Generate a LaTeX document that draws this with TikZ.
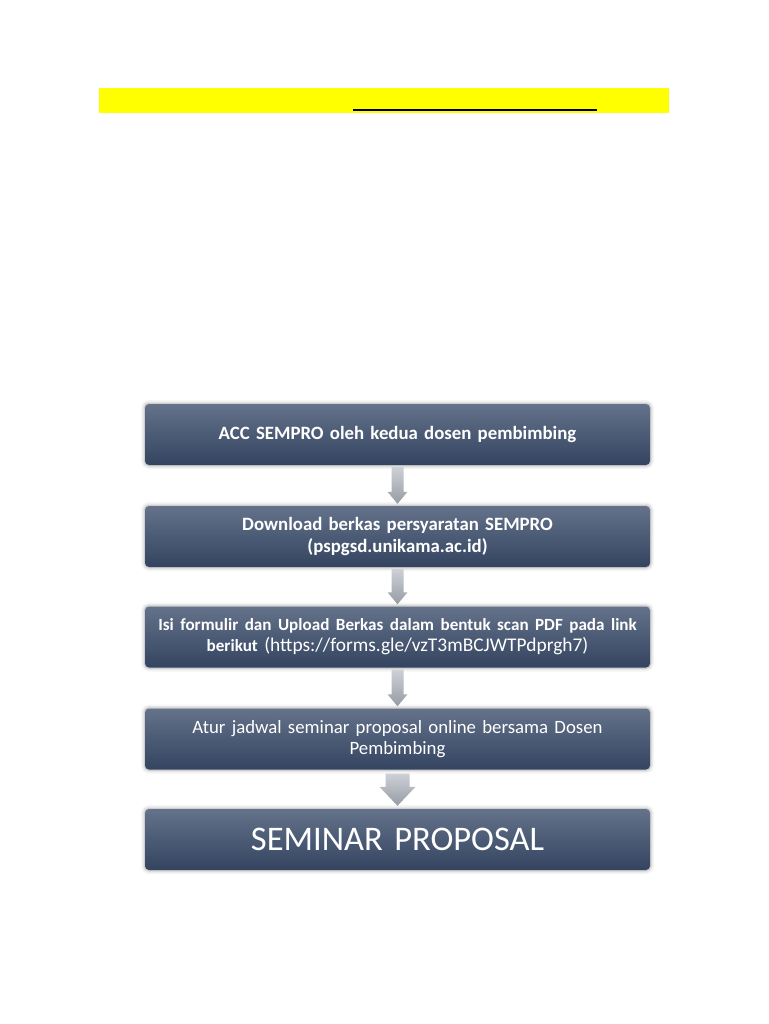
\documentclass[tikz,border=0pt]{standalone}
\usepackage{fontspec}
\setmainfont{Carlito}
\usetikzlibrary{calc}
\definecolor{boxtop}{RGB}{100,114,138}
\definecolor{boxbot}{RGB}{52,68,96}
\definecolor{arrtop}{RGB}{205,208,214}
\definecolor{arrbot}{RGB}{150,156,165}
\definecolor{hiyellow}{RGB}{255,255,0}
\tikzset{
  stepbox/.style={rounded corners=4pt, minimum width=505pt, minimum height=61pt,
    text width=500pt, align=center, text=white, inner sep=0pt,
    preaction={draw=black, opacity=0.04, line width=8pt},
    preaction={draw=black, opacity=0.06, line width=5pt},
    preaction={draw=black, opacity=0.10, line width=2.5pt},
    top color=boxtop, bottom color=boxbot},
  blockarrow/.style={top color=arrtop, bottom color=arrbot, draw=none},
  midfont/.style={font=\fontsize{18.8}{21}\selectfont},
  urlfont/.style={font=\fontsize{19.4}{21}\selectfont},
  boldfont/.style={font=\bfseries\fontsize{18.8}{21.5}\selectfont},
  bigfont/.style={font=\fontsize{34.5}{40}\selectfont}
}
\newcommand{\smallbold}{\bfseries\fontsize{17.1}{21}\selectfont}
\begin{document}
\begin{tikzpicture}[x=1pt,y=-1pt]
\useasboundingbox (0,0) rectangle (768,1024);
\fill[white] (0,0) rectangle (768,1024);
% yellow title bar
\fill[hiyellow] (99,88) rectangle (669,113);
\coordinate (ulA) at (353,110);
\coordinate (ulB) at (597,110);
\draw[black, line width=1.6pt] (ulA) -- (ulB);

\node[stepbox, boldfont] (b1) at (397.5,434.5) {ACC SEMPRO oleh kedua dosen pembimbing};
\node[stepbox, boldfont] (b2) at (397.5,536.5) {Download berkas persyaratan SEMPRO\\ (pspgsd.unikama.ac.id)};
\node[stepbox, urlfont] (b3) at (397.5,637) {{\smallbold Isi formulir dan Upload Berkas dalam bentuk scan PDF pada link}\\ {\smallbold berikut} (https://forms.gle/vzT3mBCJWTPdprgh7)};
\node[stepbox, midfont] (b4) at (397.5,739) {Atur jadwal seminar proposal online bersama Dosen\\ Pembimbing};
\node[stepbox, bigfont] (b5) at (397.5,839.5) {SEMINAR PROPOSAL};

% small block arrows
\foreach \a/\b in {b1/b2, b2/b3, b3/b4}{
  \path[blockarrow]
    ($(\a.south)+(-6,2)$) -- ($(\a.south)+(6,2)$) --
    ($(\b.north)+(6,-14)$) -- ($(\b.north)+(10,-14)$) --
    ($(\b.north)+(0,-2)$) --
    ($(\b.north)+(-10,-14)$) -- ($(\b.north)+(-6,-14)$) -- cycle;
}
% large block arrow
\path[blockarrow]
  ($(b4.south)+(-12,4)$) -- ($(b4.south)+(12,4)$) --
  ($(b5.north)+(12,-22)$) -- ($(b5.north)+(18,-22)$) --
  ($(b5.north)+(0,-3)$) --
  ($(b5.north)+(-18,-22)$) -- ($(b5.north)+(-12,-22)$) -- cycle;
\end{tikzpicture}
\end{document}
